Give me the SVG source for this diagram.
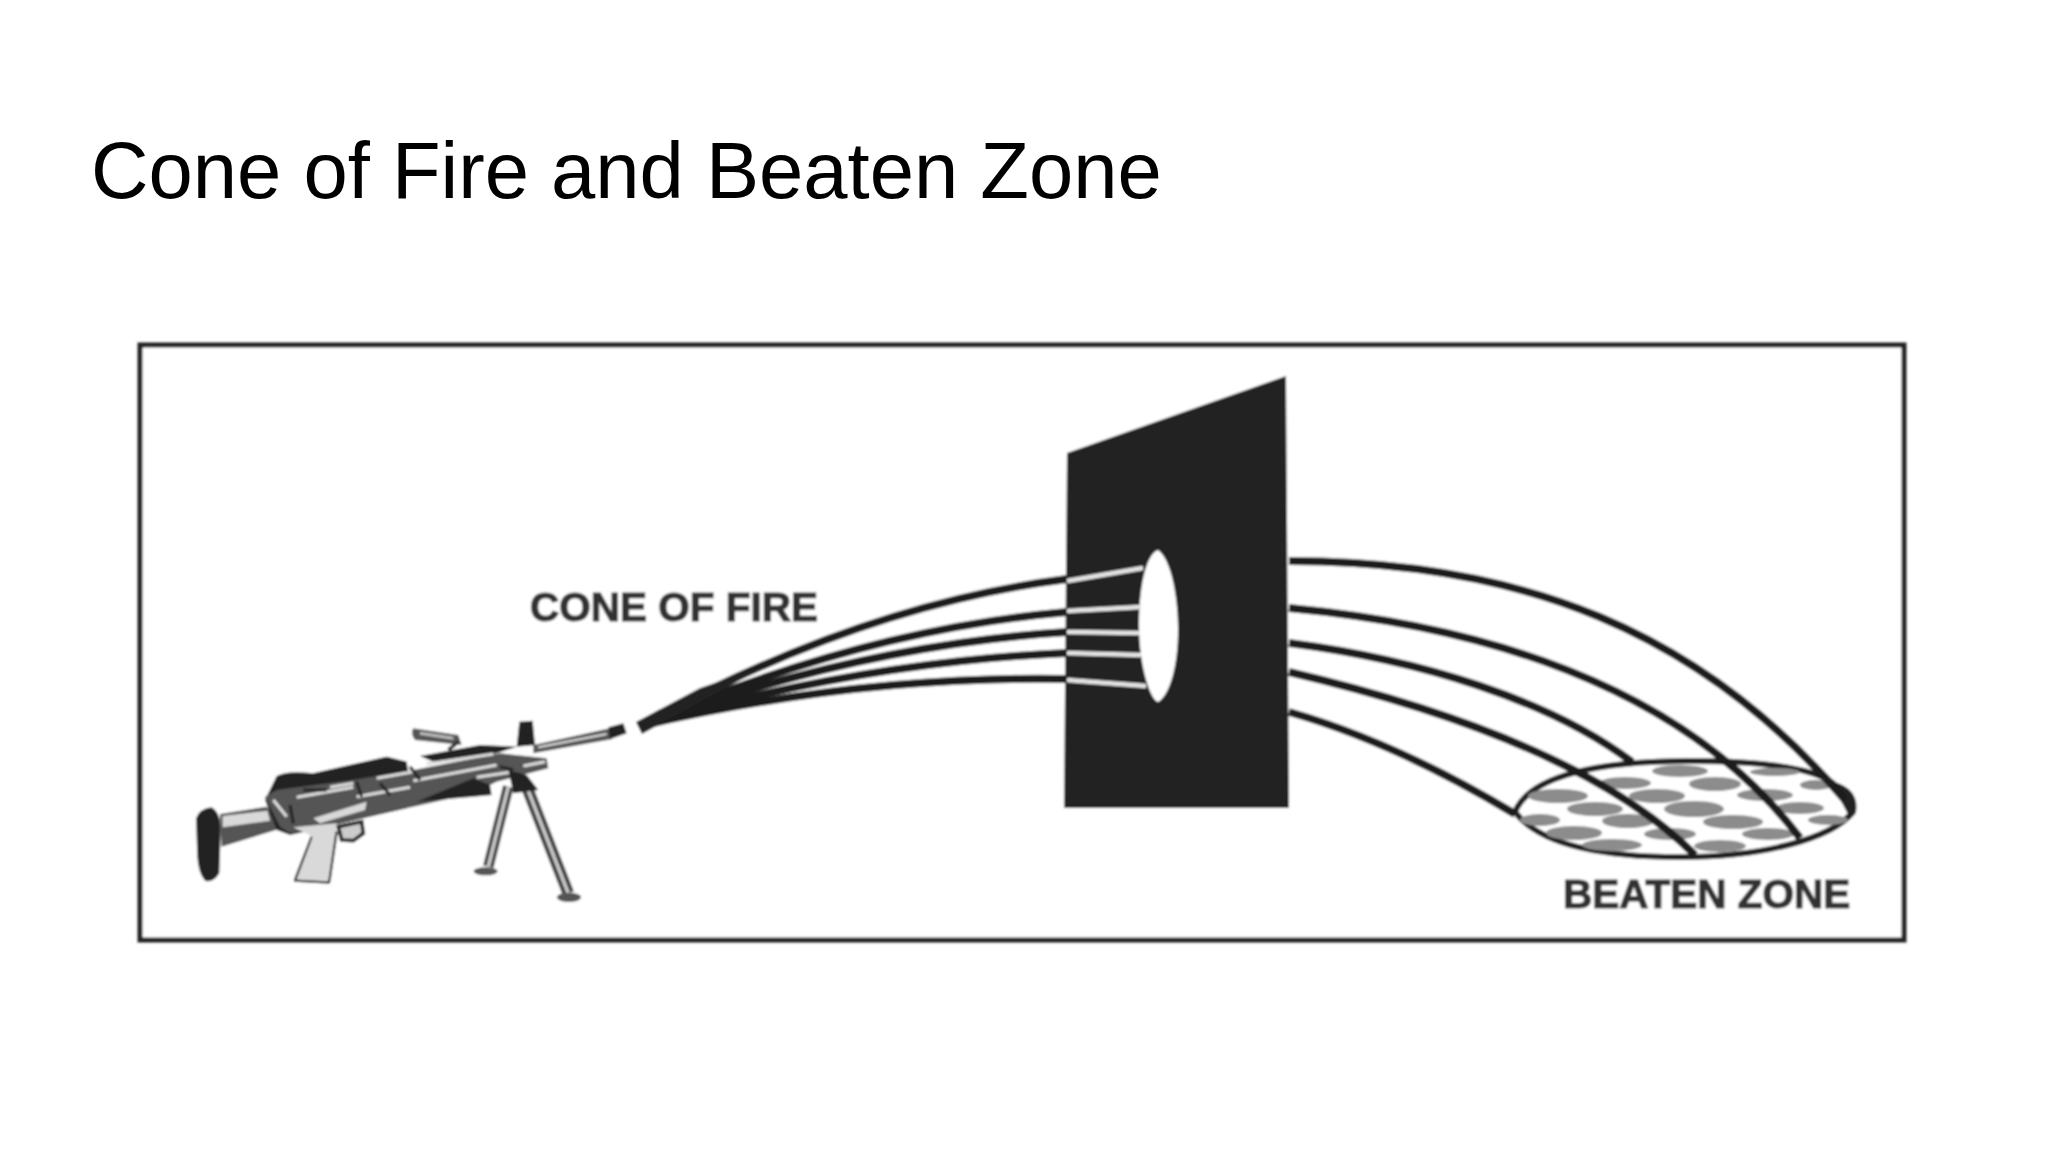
<svg xmlns="http://www.w3.org/2000/svg" width="2048" height="1152" viewBox="0 0 2048 1152">
<defs>
<filter id="soft" x="-5%" y="-5%" width="110%" height="110%"><feGaussianBlur stdDeviation="1.3"/></filter>
</defs>
<style>
.traj{fill:none;stroke:#1c1c1c;stroke-width:8;stroke-linecap:butt}
.ghost{fill:none;stroke:#e4e4e4;stroke-width:4.5}
.blob{fill:#8c8c8c}
.lab{font-family:"Liberation Sans",Arial,sans-serif;font-weight:700;font-size:40.5px;fill:#333;stroke:#333;stroke-width:1.2}
.d{fill:#222}.m{fill:#555}.l{fill:#d9d9d9}
</style>
<rect width="2048" height="1152" fill="#fff"/>
<text id="title" x="91" y="198" font-family="'Liberation Sans',Arial,sans-serif" font-size="79.6" fill="#000">Cone of Fire and Beaten Zone</text>
<g filter="url(#soft)">
<rect id="frame" x="140" y="345" width="1764" height="595" fill="#fff" stroke="#222" stroke-width="5"/>
<g id="panel">
<polygon points="1067,453 1286,376 1289,808 1064,808" fill="#222"/>
<path d="M1158 550C1172 560 1178 600 1178 630C1178 665 1170 695 1158 702C1150 700 1139 665 1139 625C1139 590 1145 555 1158 550Z" fill="#fff"/>
</g>
<g id="connectors">
<path class="traj" d="M640 726Q860 605 1067 579"/>
<path class="traj" d="M640 726Q860 630 1067 612"/>
<path class="traj" d="M640 726Q860 645 1067 632"/>
<path class="traj" d="M640 726Q860 662 1067 653"/>
<path class="traj" d="M640 726Q860 675 1067 679"/>
<path d="M636 722L700 688L770 664L700 702L642 734Z" fill="#222"/>
<path class="ghost" d="M1067 581L1143 568"/>
<path class="ghost" d="M1067 611L1141 607"/>
<path class="ghost" d="M1067 632L1140 633"/>
<path class="ghost" d="M1067 653L1141 655"/>
<path class="ghost" d="M1067 680L1146 686"/>
<g id="beaten-zone">
<path d="M1515 812C1530 775 1600 761 1690 761C1770 761 1820 770 1835 785C1850 790 1855 800 1853 812C1830 840 1760 857 1680 857C1600 857 1540 845 1515 812Z" fill="#fff" stroke="#222" stroke-width="6"/>
<g class="blob">
<ellipse cx="1558" cy="796" rx="30" ry="7"/><ellipse cx="1595" cy="809" rx="28" ry="7"/><ellipse cx="1540" cy="820" rx="20" ry="6"/><ellipse cx="1574" cy="833" rx="28" ry="7"/><ellipse cx="1628" cy="821" rx="26" ry="7"/><ellipse cx="1612" cy="845" rx="30" ry="6"/>
<ellipse cx="1680" cy="771" rx="28" ry="6"/><ellipse cx="1625" cy="783" rx="26" ry="6"/><ellipse cx="1657" cy="796" rx="28" ry="7"/><ellipse cx="1715" cy="784" rx="26" ry="7"/><ellipse cx="1694" cy="809" rx="30" ry="8"/><ellipse cx="1670" cy="834" rx="26" ry="6"/>
<ellipse cx="1733" cy="822" rx="30" ry="7"/><ellipse cx="1720" cy="846" rx="26" ry="6"/><ellipse cx="1765" cy="795" rx="28" ry="6"/><ellipse cx="1768" cy="834" rx="26" ry="6"/><ellipse cx="1800" cy="808" rx="24" ry="6"/><ellipse cx="1775" cy="772" rx="25" ry="4"/><ellipse cx="1816" cy="785" rx="16" ry="5"/><ellipse cx="1828" cy="820" rx="20" ry="5"/>
</g>
<path d="M1822 775L1848 792L1856 806L1850 818L1835 790Z" fill="#222"/>
</g>
<path class="traj" d="M1289 561C1520 561 1700 630 1845 800"/>
<path class="traj" d="M1289 608C1470 625 1680 680 1800 838"/>
<path class="traj" d="M1289 643C1420 660 1550 700 1632 762"/>
<path class="traj" d="M1289 672C1430 705 1600 760 1695 855"/>
<path class="traj" d="M1289 712C1370 735 1450 775 1515 814"/>
</g>
<text id="cone-label" class="lab" x="530" y="621">CONE OF FIRE</text>
<text id="beaten-label" class="lab" x="1563" y="908">BEATEN ZONE</text>
<g id="rifle" transform="translate(180 690) scale(.33333)">
<path class="d" d="M48 385Q60 355 95 352Q125 370 122 430L118 550Q100 580 75 572Q55 550 52 500Z"/>
<path class="m" d="M120 372L260 350L305 415L125 470Z"/>
<path class="l" d="M128 378L262 362L270 392L128 412Z"/>
<path class="d" d="M290 258Q320 240 400 250L620 200L680 215L700 340L680 355L330 435L290 420L255 330Z"/>
<path class="m" d="M255 320L290 300L520 270L700 240L960 190L1100 205L1105 235L950 275L880 310L700 350L330 430L300 410Z"/>
<path class="d" d="M710 335L880 265L930 285L935 315L880 320Z"/>
<path class="d" d="M400 250L620 200L680 215L560 245L400 272Z"/>
<path class="d" d="M720 198L900 165L1010 170L950 190L760 215Z"/>
<g fill="none" stroke="#ddd" stroke-width="9">
<path d="M350 322L520 292"/><path d="M450 292L520 280"/><path d="M590 265L700 245"/><path d="M700 272L950 225"/><path d="M740 222L940 192"/><path d="M890 262L1000 245"/><path d="M1030 228L1095 215"/><path d="M280 330L320 380"/><path d="M530 320L690 292"/>
</g>
<g fill="none" stroke="#222" stroke-width="9">
<path d="M530 275L545 320"/><path d="M600 280L630 315"/><path d="M370 300L440 300"/><path d="M690 230L720 270"/><path d="M330 345L340 400"/><path d="M960 230L1000 240"/>
</g>
<path class="l" d="M400 385L560 335L555 360L420 400Z"/>
<path class="l" d="M340 412L470 400L470 430L450 575L345 570L400 440Z"/>
<path d="M342 572L450 578M470 425L448 575M345 570L395 440" stroke="#222" stroke-width="7" fill="none"/>
<path d="M475 410L545 395L550 430L520 452L485 450Z" fill="#ccc" stroke="#222" stroke-width="11"/>
<path class="m" d="M700 115L835 135L845 165L705 150Q690 130 700 115Z"/>
<path d="M720 130L820 145" stroke="#bbb" stroke-width="9"/>
<path d="M805 180L835 155" stroke="#333" stroke-width="11"/>
<path class="d" d="M1018 95L1058 92L1065 165L1010 170Z"/>
<path class="m" d="M1060 165L1290 115L1295 148L1060 190Z"/>
<path d="M1075 172L1280 132" stroke="#ddd" stroke-width="6"/>
<path class="d" d="M1285 112L1330 100L1340 130L1290 148Z"/>
<path class="d" d="M1375 95L1440 58L1440 95L1385 125Z"/>
<path d="M985 290L925 530" stroke="#444" stroke-width="32"/>
<path d="M985 290L925 530" stroke="#ccc" stroke-width="10"/>
<path d="M1040 290L1165 610" stroke="#444" stroke-width="36"/>
<path d="M1040 290L1165 610" stroke="#ccc" stroke-width="10"/>
<ellipse class="m" cx="917" cy="544" rx="36" ry="12"/>
<ellipse class="m" cx="1167" cy="622" rx="36" ry="14"/>
<path class="d" d="M985 240L1040 255L1075 300L1000 310Z"/>
</g>
</g>
</svg>
